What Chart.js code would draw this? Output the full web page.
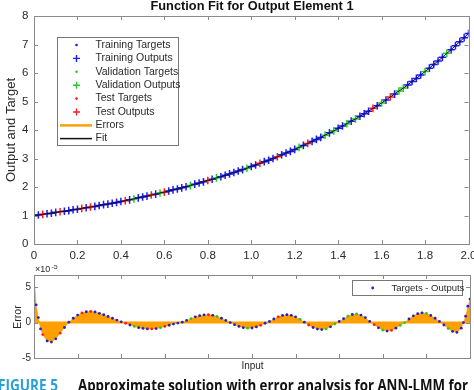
<!DOCTYPE html>
<html><head><meta charset="utf-8">
<script src="https://cdn.jsdelivr.net/npm/chart.js@4/dist/chart.umd.min.js"></script>
<style>
html,body{margin:0;padding:0;background:#fff;width:474px;height:390px;overflow:hidden}
#wrap{position:relative;width:474px;height:390px;overflow:hidden}
#c1{position:absolute;left:0;top:0}
#c2{position:absolute;left:0;top:265px}
.cap{position:absolute;top:377px;white-space:nowrap;font-family:'Open Sans',sans-serif;font-weight:bold;font-size:16.5px;line-height:16.5px;transform-origin:0 0;color:#111}
#capA{left:-2px;color:#2a9fd8}
#capB{left:78px}
</style></head><body>
<div id="wrap">
<canvas id="c1" width="474" height="265"></canvas>
<canvas id="c2" width="474" height="125"></canvas>
<div class="cap" id="capA">FIGURE 5</div>
<div class="cap" id="capB">Approximate solution with error analysis for ANN-LMM for</div>
</div>
<script>
// ---------------- DATA ----------------
const inputs = [0,0.02,0.04,0.06,0.08,0.10,0.12,0.14,0.16,0.18,0.20,0.22,0.24,0.26,0.28,0.30,0.32,0.34,0.36,0.38,
0.40,0.42,0.44,0.46,0.48,0.50,0.52,0.54,0.56,0.58,0.60,0.62,0.64,0.66,0.68,0.70,0.72,0.74,0.76,0.78,
0.80,0.82,0.84,0.86,0.88,0.90,0.92,0.94,0.96,0.98,1.00,1.02,1.04,1.06,1.08,1.10,1.12,1.14,1.16,1.18,
1.20,1.22,1.24,1.26,1.28,1.30,1.32,1.34,1.36,1.38,1.40,1.42,1.44,1.46,1.48,1.50,1.52,1.54,1.56,1.58,
1.60,1.62,1.64,1.66,1.68,1.70,1.72,1.74,1.76,1.78,1.80,1.82,1.84,1.86,1.88,1.90,1.92,1.94,1.96,1.98,2.00];
const targets = [1.00,1.02,1.04,1.06,1.08,1.11,1.13,1.15,1.17,1.20,1.22,1.25,1.27,1.30,1.32,1.35,1.38,1.40,1.43,1.46,
1.49,1.52,1.55,1.58,1.62,1.65,1.68,1.72,1.75,1.79,1.82,1.86,1.90,1.93,1.97,2.01,2.05,2.10,2.14,2.18,
2.23,2.27,2.32,2.36,2.41,2.46,2.51,2.56,2.61,2.66,2.72,2.77,2.83,2.89,2.94,3.00,3.06,3.13,3.19,3.25,
3.32,3.39,3.46,3.53,3.60,3.67,3.74,3.82,3.90,3.97,4.06,4.14,4.22,4.31,4.39,4.48,4.57,4.66,4.76,4.85,
4.95,5.05,5.16,5.26,5.37,5.47,5.58,5.70,5.81,5.93,6.05,6.17,6.30,6.42,6.55,6.69,6.82,6.96,7.10,7.24,7.39];
// indices (into inputs) of validation and test samples
const validationIdx = [23,29,36,42,49,61,67,69,72,74,80,84,85,90,95];
const testIdx = [2,6,11,13,21,27,30,40,52,56,63,78,82];
// error (targets - outputs), in units of 1e-5
const errX = [0,0.01,0.02,0.03,0.04,0.06,0.08,0.10,0.12,0.14,0.16,0.18,0.20,0.22,0.24,0.26,0.28,0.30,0.32,0.34,0.36,0.38,
0.40,0.42,0.44,0.46,0.48,0.50,0.52,0.54,0.56,0.58,0.60,0.62,0.64,0.66,0.68,0.70,0.72,0.74,0.76,0.78,
0.80,0.82,0.84,0.86,0.88,0.90,0.92,0.94,0.96,0.98,1.00,1.02,1.04,1.06,1.08,1.10,1.12,1.14,1.16,1.18,
1.20,1.22,1.24,1.26,1.28,1.30,1.32,1.34,1.36,1.38,1.40,1.42,1.44,1.46,1.48,1.50,1.52,1.54,1.56,1.58,
1.60,1.62,1.64,1.66,1.68,1.70,1.72,1.74,1.76,1.78,1.80,1.82,1.84,1.86,1.88,1.90,1.92,1.94,1.96,1.97,1.98,1.99,2.00];
const errY = [6.7,2.5,0.7,-0.9,-1.7,-2.6,-2.75,-2.3,-1.5,-0.7,0.05,0.6,1.05,1.35,1.52,1.57,1.5,1.3,1.1,0.85,0.6,0.35,
0.1,-0.1,-0.35,-0.55,-0.72,-0.83,-0.9,-0.9,-0.85,-0.72,-0.55,-0.38,-0.22,-0.08,0.05,0.3,0.55,0.8,0.97,1.07,
1.1,1.02,0.85,0.6,0.3,0.0,-0.3,-0.55,-0.72,-0.8,-0.77,-0.62,-0.4,-0.1,0.15,0.5,0.8,1.0,1.1,1.02,
0.8,0.45,0.05,-0.35,-0.7,-0.92,-1.0,-0.9,-0.6,-0.2,0.15,0.55,0.9,1.13,1.2,1.05,0.7,0.15,-0.3,-0.75,
-1.08,-1.2,-1.1,-0.8,-0.4,0.0,0.5,0.95,1.25,1.37,1.28,1.0,0.6,0.15,-0.35,-0.85,-1.25,-1.4,-0.8,0.0,0.9,2.3,3.3];
const topYTicks = [0,1,2,3,4,5,6,7,8];
const errYTicks = [-5,0,5];
const legendTop = ['Training Targets','Training Outputs','Validation Targets','Validation Outputs','Test Targets','Test Outputs','Errors','Fit'];
const legendErr = ['Targets - Outputs'];

// ---------------- helpers ----------------
const BLUE='#1a1aff', GREEN='#22cc22', RED='#ff1a1a', ORANGE='#ffa000', AXIS='#8a8a8a', TXT='#2a2a2a';
const FONT='"Liberation Sans", Arial, sans-serif';
function pts(idx){return idx.map(i=>({x:inputs[i],y:targets[i]}));}
const trainIdx = inputs.map((_,i)=>i).filter(i=>!validationIdx.includes(i)&&!testIdx.includes(i));
function colorFor(x){
  const i = inputs.findIndex(v=>Math.abs(v-x)<1e-9);
  if(i<0) return BLUE;
  if(testIdx.includes(i)) return RED;
  if(validationIdx.includes(i)) return GREEN;
  return '#2222cc';
}
function fitText(ctx,text,x,y,font,width,align){
  ctx.save(); ctx.font=font; ctx.textBaseline='middle';
  const w=ctx.measureText(text).width; const s=width? width/w:1;
  let x0 = align==='center'? x-w*s/2 : (align==='right'? x-w*s : x);
  ctx.translate(x0,y); ctx.scale(s,1); ctx.textAlign='left'; ctx.fillText(text,0,0);
  ctx.restore();
}
function vText(ctx,text,cx,cy,font,len){
  ctx.save(); ctx.font=font; ctx.textBaseline='middle'; ctx.textAlign='center';
  const w=ctx.measureText(text).width; const s=len? len/w:1;
  ctx.setTransform(0,-s,1,0,cx,cy);
  ctx.fillText(text,0,0);
  ctx.restore();
}
function frame(chart,len){
  const {ctx,chartArea:a,scales:{x,y}}=chart;
  ctx.save(); ctx.strokeStyle=AXIS; ctx.lineWidth=1; ctx.beginPath();
  x.ticks.forEach(t=>{const p=Math.round(x.getPixelForValue(t.value))+0.5;
    ctx.moveTo(p,a.bottom);ctx.lineTo(p,a.bottom-len);ctx.moveTo(p,a.top);ctx.lineTo(p,a.top+len);});
  y.ticks.forEach(t=>{const p=Math.round(y.getPixelForValue(t.value))+0.5;
    ctx.moveTo(a.left,p);ctx.lineTo(a.left+len,p);ctx.moveTo(a.right,p);ctx.lineTo(a.right-len,p);});
  ctx.stroke();
  ctx.strokeRect(Math.round(a.left)+0.5,Math.round(a.top)+0.5,Math.round(a.right-a.left),Math.round(a.bottom-a.top));
  ctx.restore();
}
function cross(ctx,x,y,r,c){ctx.save();ctx.strokeStyle=c;ctx.lineWidth=1.4;ctx.beginPath();ctx.moveTo(x-r,y);ctx.lineTo(x+r,y);ctx.moveTo(x,y-r);ctx.lineTo(x,y+r);ctx.stroke();ctx.restore();}
function dot(ctx,x,y,r,c){ctx.save();ctx.fillStyle=c;ctx.beginPath();ctx.arc(x,y,r,0,Math.PI*2);ctx.fill();ctx.restore();}
const noGrid={display:false,drawTicks:false,tickLength:0};

// ---------------- top chart ----------------
const topPlugin={id:'topDeco',
  afterDraw(chart){
    const ctx=chart.ctx;
    frame(chart,4);
    ctx.fillStyle='#111';
    fitText(ctx,'Function Fit for Output Element 1',252,6,'bold 13px '+FONT,203,'center');
    ctx.fillStyle=TXT;
    vText(ctx,'Output and Target',12,130,'12.5px '+FONT,104);
    // legend
    ctx.save(); ctx.fillStyle='#fff'; ctx.strokeStyle='#777'; ctx.lineWidth=1;
    ctx.fillRect(57.5,37.5,121,108); ctx.strokeRect(57.5,37.5,121,108); ctx.restore();
    const rows=[45,58.4,71.8,85.2,98.6,112,125.4,138.6];
    const mx=76.5;
    dot(ctx,mx,rows[0],1.3,BLUE); cross(ctx,mx,rows[1],3.5,BLUE);
    dot(ctx,mx,rows[2],1.3,GREEN); cross(ctx,mx,rows[3],3.5,GREEN);
    dot(ctx,mx,rows[4],1.3,RED); cross(ctx,mx,rows[5],3.5,RED);
    ctx.save(); ctx.lineWidth=2.5; ctx.strokeStyle=ORANGE; ctx.beginPath(); ctx.moveTo(60,rows[6]); ctx.lineTo(92,rows[6]); ctx.stroke();
    ctx.lineWidth=1.5; ctx.strokeStyle='#111'; ctx.beginPath(); ctx.moveTo(60,rows[7]); ctx.lineTo(92,rows[7]); ctx.stroke(); ctx.restore();
    ctx.fillStyle=TXT;
    legendTop.forEach((t,i)=>fitText(ctx,t,95.5,rows[i],'10.5px '+FONT,null,'left'));
  }
};
new Chart(document.getElementById('c1'),{
  type:'scatter',
  data:{datasets:[
    {label:'Fit',data:inputs.map((x,i)=>({x,y:targets[i]})),showLine:true,borderColor:'#111',borderWidth:1,pointRadius:0,order:0},
    {label:'Test Outputs',data:pts(testIdx),pointStyle:'cross',pointRadius:3.8,borderColor:RED,borderWidth:1.5,order:1},
    {label:'Validation Outputs',data:pts(validationIdx),pointStyle:'cross',pointRadius:3.8,borderColor:GREEN,borderWidth:1.5,order:1},
    {label:'Training Targets',data:pts(trainIdx),pointRadius:1.2,backgroundColor:BLUE,borderWidth:0,order:2},
    {label:'Training Outputs',data:pts(trainIdx),pointStyle:'cross',pointRadius:3.8,borderColor:BLUE,borderWidth:1.5,order:3}
  ]},
  options:{responsive:false,animation:false,events:[],
    layout:{padding:{top:16,right:4,left:0,bottom:0}},
    plugins:{legend:{display:false},tooltip:{enabled:false},title:{display:false}},
    scales:{
      x:{type:'linear',min:0,max:2,grid:noGrid,border:{display:false},
        ticks:{stepSize:0.2,maxRotation:0,autoSkip:false,padding:5,color:TXT,font:{family:FONT,size:11.5}},
        afterFit(s){s.height=21;s.paddingLeft=0;s.paddingRight=0;}},
      y:{type:'linear',min:0,max:8,grid:noGrid,border:{display:false},
        afterBuildTicks(s){s.ticks=topYTicks.map(v=>({value:v}));},
        ticks:{padding:5.5,color:TXT,font:{family:FONT,size:11.5}},
        afterFit(s){s.width=34;s.paddingTop=0;s.paddingBottom=0;}}
    }
  },
  plugins:[topPlugin]
});

// ---------------- error chart ----------------
const errPlugin={id:'errDeco',
  beforeDatasetsDraw(chart){
    const {ctx,chartArea:a,scales:{y}}=chart;
    ctx.save(); ctx.strokeStyle=ORANGE; ctx.lineWidth=2; ctx.beginPath();
    const p=y.getPixelForValue(0); ctx.moveTo(a.left,p); ctx.lineTo(a.right,p); ctx.stroke(); ctx.restore();
  },
  afterDraw(chart){
    const ctx=chart.ctx;
    frame(chart,4);
    ctx.fillStyle=TXT;
    fitText(ctx,'×10',35,5,'9px '+FONT,null,'left');
    fitText(ctx,'-5',51.5,2.5,'7px '+FONT,null,'left');
    vText(ctx,'Error',18,52,'10.5px '+FONT,null);
    fitText(ctx,'Input',252.5,101.5,'10px '+FONT,null,'center');
    // legend
    ctx.save(); ctx.fillStyle='#fff'; ctx.strokeStyle='#777'; ctx.lineWidth=1;
    ctx.fillRect(352.5,15.5,110,15); ctx.strokeRect(352.5,15.5,110,15); ctx.restore();
    dot(ctx,372.7,23,1.4,'#2222cc');
    ctx.fillStyle=TXT;
    fitText(ctx,legendErr[0],391.5,23,'9.5px '+FONT,null,'left');
  }
};
const errPts = errX.map((x,i)=>({x,y:errY[i]}));
new Chart(document.getElementById('c2'),{
  type:'scatter',
  data:{datasets:[
    {label:'Targets - Outputs',data:errPts,pointRadius:1.4,pointBackgroundColor:errX.map(colorFor),pointBorderWidth:0,order:0},
    {label:'Errors',data:errPts,showLine:true,fill:'origin',backgroundColor:ORANGE,borderColor:ORANGE,borderWidth:0.5,pointRadius:0,order:1}
  ]},
  options:{responsive:false,animation:false,events:[],
    layout:{padding:{top:10,right:4,left:0,bottom:0}},
    plugins:{legend:{display:false},tooltip:{enabled:false},title:{display:false}},
    scales:{
      x:{type:'linear',min:0,max:2,grid:noGrid,border:{display:false},
        ticks:{stepSize:0.2,display:false},
        afterFit(s){s.height=32;s.paddingLeft=0;s.paddingRight=0;}},
      y:{type:'linear',min:-5,max:6.7,grid:noGrid,border:{display:false},
        afterBuildTicks(s){s.ticks=errYTicks.map(v=>({value:v}));},
        ticks:{padding:3,color:TXT,font:{family:FONT,size:10}},
        afterFit(s){s.width=34;s.paddingTop=0;s.paddingBottom=0;}}
    }
  },
  plugins:[errPlugin]
});

// caption fitting
function fitDiv(id,w){const el=document.getElementById(id);const r=el.getBoundingClientRect().width;el.style.transform='scaleX('+(w/r)+')';}
fitDiv('capA',60); fitDiv('capB',390);
</script>
</body></html>
